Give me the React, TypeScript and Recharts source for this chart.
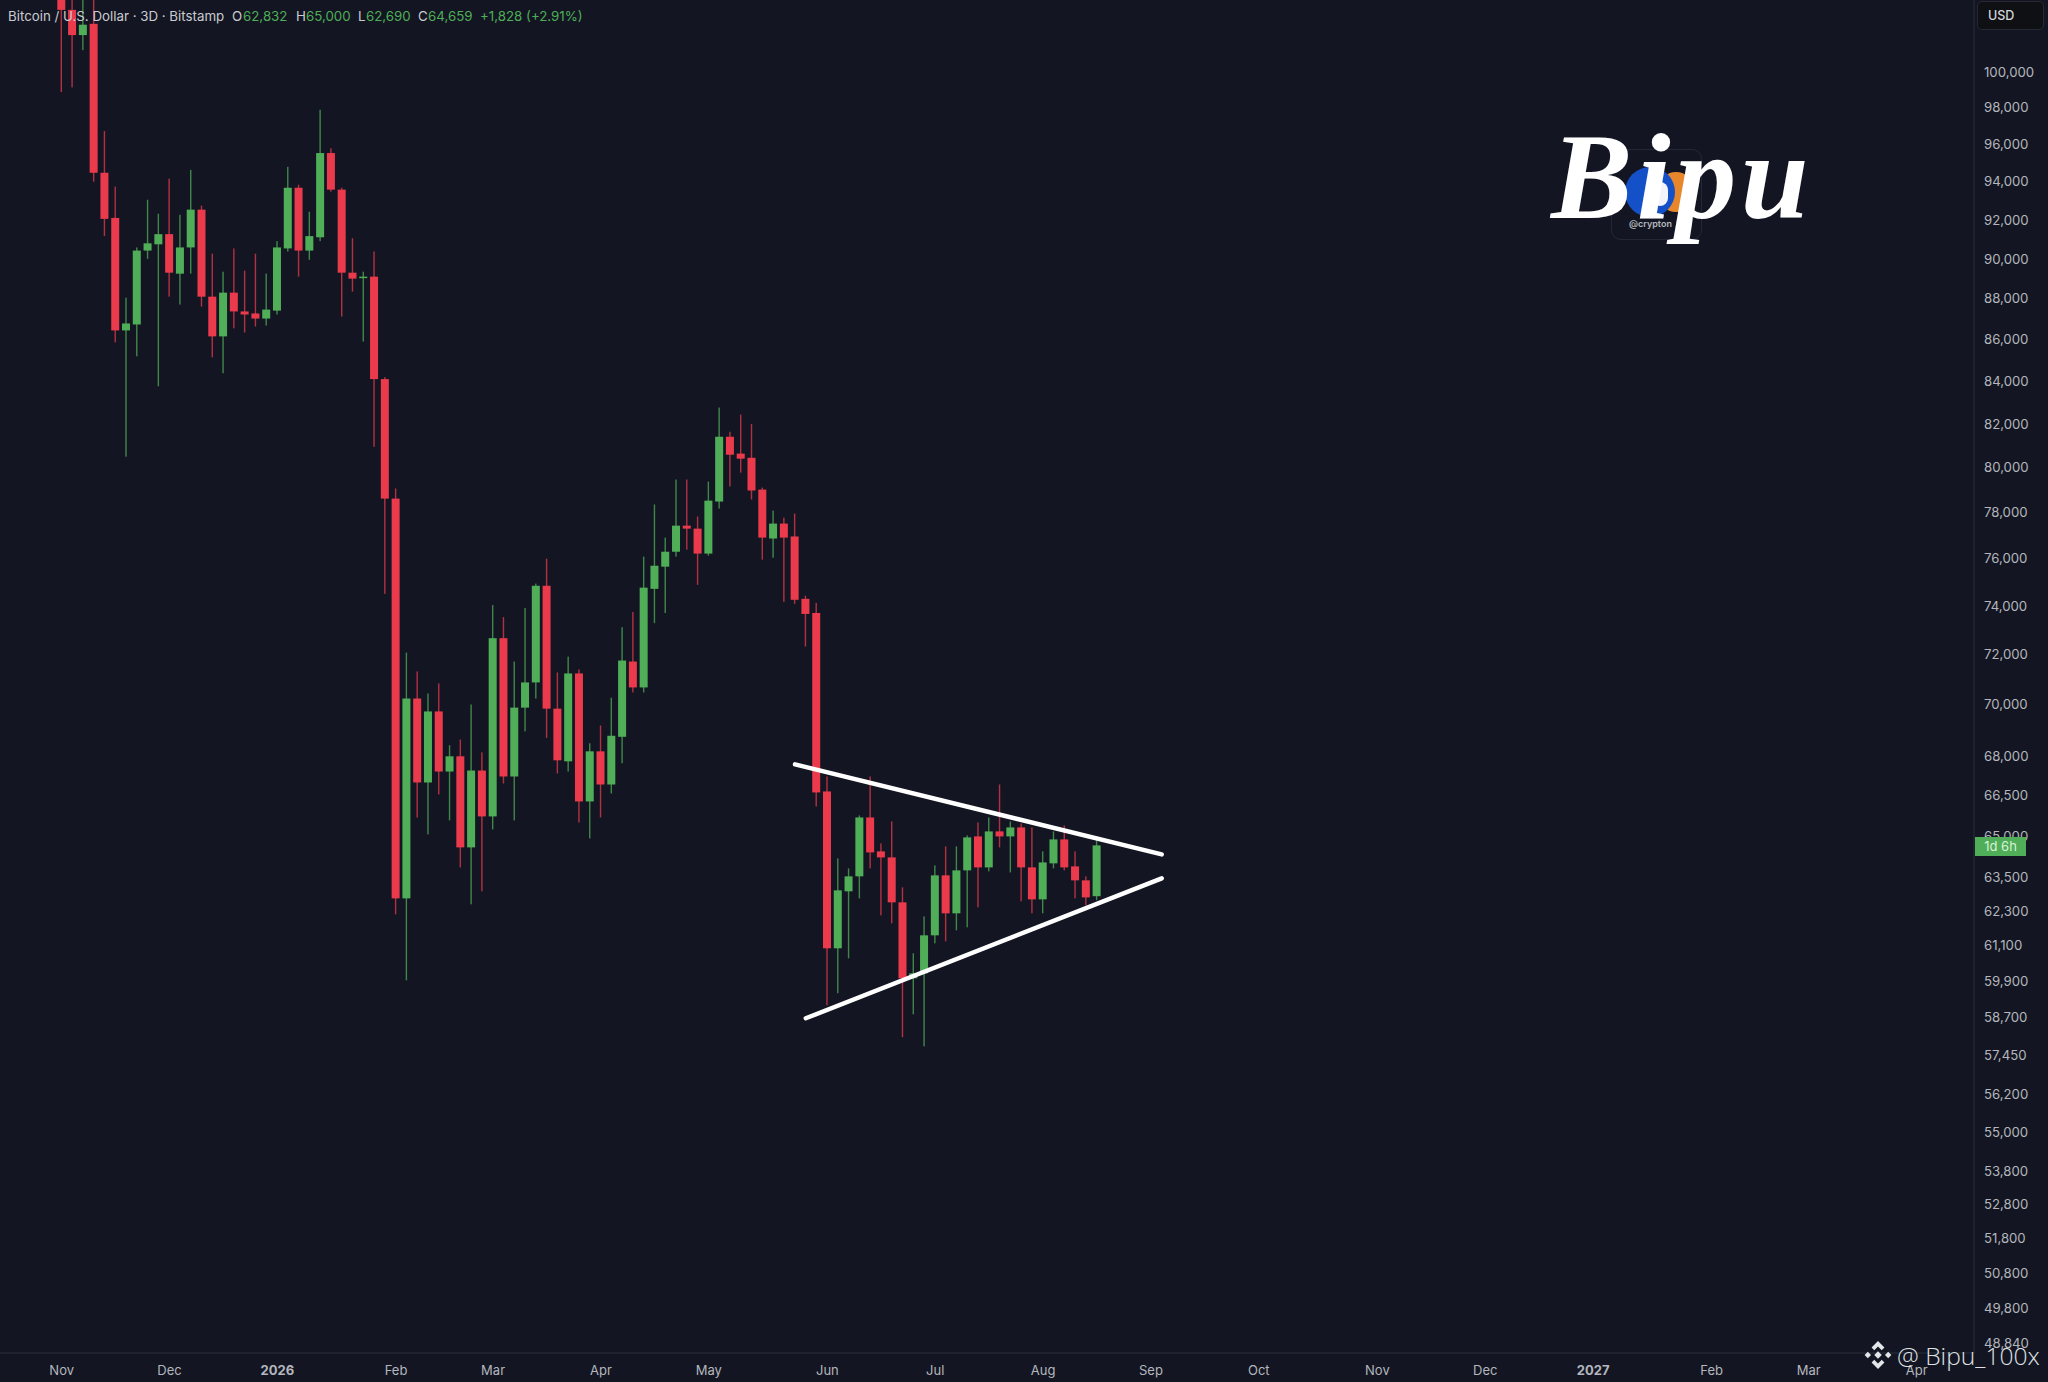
import React from "react";
import { ComposedChart, Bar, XAxis, YAxis, ReferenceLine } from "recharts";

// ---------- candle values (3-day bars, starting Nov 2025) ----------
const opens = [105000,103560,102100,102750,94475,92100,86440,86730,90420,90740,91260,89250,90580,92530,88100,86150,88300,87370,87270,87020,87410,90530,93680,90420,91100,95530,93580,89300,89050,89100,84100,78620,62755,70240,66993,69730,67407,67988,64585,67445,65723,72670,67219,69880,70880,74850,69840,67797,71240,66280,68179,66916,68740,71720,70680,74720,75660,76300,77430,77300,76220,78490,81410,80640,80450,79020,76870,77520,76960,74300,73710,66655,61013,63005,63539,65685,64440,64222,62615,59990,60160,61461,63575,62228,63754,64986,63861,65170,64986,65316,63861,62720,64006,64876,63897,63396,62832];
const highs = [105500,104160,104430,104430,96720,93740,88050,90580,93050,92320,94160,92260,94630,92740,90260,89350,90530,89400,90260,89250,90900,94790,93840,92420,97890,95790,93680,91050,89350,90370,84190,79070,72080,71320,70440,70840,68411,68633,70003,68140,74040,73540,71720,73920,74940,76000,71280,71920,71400,68490,69180,70270,73120,73750,76090,78360,76910,79470,79470,77830,79380,82760,81640,82430,82000,79110,78090,77780,77960,74430,74130,67219,64185,63825,65760,67219,64730,65537,63147,60842,62122,63933,64621,64621,65023,65500,65685,66916,65537,65463,65316,64440,65170,65390,64440,63539,65000];
const lows = [98870,99135,101240,94000,91160,85860,80500,85190,90000,83760,88100,87710,89250,87610,85140,84380,86540,86340,86630,86680,87220,90370,89100,89950,90900,93470,87120,88350,85900,80950,74510,62193,59922,65685,65060,66542,65574,63861,62545,63005,65243,66955,65574,68950,70240,68700,67332,67407,65500,64913,65685,66580,67722,70480,70480,73290,73710,76090,76390,74890,76130,78180,79160,79780,78580,75960,76040,74170,74090,72330,66093,59086,59486,60670,62755,63825,62158,61878,58030,58787,57734,61185,61253,61634,61739,62439,63718,64585,63682,62650,62228,62228,63825,63754,62755,62510,62690];
const closes = [103560,102100,102700,94475,92050,86440,86780,90420,90790,91260,89300,90580,92530,88100,86150,88300,87370,87220,87020,87460,90580,93680,90420,91160,95530,93580,89300,89000,89100,84100,78620,62755,70240,66993,69730,67407,67988,64585,67445,65723,72670,67219,69880,70880,74850,69840,67835,71240,66280,68179,66916,68780,71760,70680,74770,75700,76300,77430,77300,76220,78530,81410,80590,80410,78980,76910,77520,76910,74260,73670,66618,61013,63040,63539,65685,64403,64222,62615,59990,60160,61461,63575,62228,63754,64950,63861,65170,64986,65316,63861,62720,64040,64876,63861,63396,62790,64659];

// ---------- price axis (logarithmic) ----------
const priceTicks = [100000,98000,96000,94000,92000,90000,88000,86000,84000,82000,80000,78000,76000,74000,72000,70000,68000,66500,65000,63500,62300,61100,59900,58700,57450,56200,55000,53800,52800,51800,50800,49800,48840];
const priceDomain: [number, number] = [48566, 104140];

// ---------- time axis ----------
const monthLabels = ["Nov","Dec","2026","Feb","Mar","Apr","May","Jun","Jul","Aug","Sep","Oct","Nov","Dec","2027","Feb","Mar","Apr"];
const monthBars = [0,10,20,31,40,50,60,71,81,91,101,111,122,132,142,153,162,172];
const barDomain: [number, number] = [-5.72, 177.32];

// ---------- triangle drawn on the chart ----------
const upperLine = [{ bar: 68, price: 67680 }, { bar: 102, price: 64330 }];
const lowerLine = [{ bar: 69, price: 58654 }, { bar: 102, price: 63467 }];

const rows = opens.map((o, i) => ({
  bar: i,
  open: o,
  high: highs[i],
  low: lows[i],
  close: closes[i],
  range: [lows[i], highs[i]] as [number, number],
}));

const BG = "#131622";
const UP = "#4fae57";
const DOWN = "#ea3a4c";
const AXIS = "#2b2f3c";
const TEXT = "#b4b6bd";
const FONT = "Inter, 'Noto Sans', sans-serif";

function Candle(props: any) {
  const { x, y, width, height, payload } = props;
  const { open, high, low, close } = payload;
  const color = close >= open ? UP : DOWN;
  const top = Math.log(high);
  const span = top - Math.log(low);
  const perUnit = span > 0 ? height / span : 0;
  const upper = Math.log(Math.max(open, close));
  const lower = Math.log(Math.min(open, close));
  const bodyY = y + (top - upper) * perUnit;
  const bodyH = Math.max(1.5, (upper - lower) * perUnit);
  const cx = x + width / 2;
  return (
    <g>
      <rect x={cx - 0.7} y={y} width={1.4} height={height} fill={color} fillOpacity={0.75} />
      <rect x={x} y={bodyY} width={width} height={bodyH} fill={color} />
    </g>
  );
}

function MonthTick(props: any) {
  const { x, y, index } = props;
  const label = monthLabels[index] ?? "";
  const isYear = label.length === 4;
  return (
    <text x={x} y={y} dy={8} textAnchor="middle" fontFamily={FONT} fontSize={13} fontWeight={isYear ? 700 : 400} fill={TEXT}>
      {label}
    </text>
  );
}

const abs = (left: number, top: number): React.CSSProperties => ({ position: "absolute", left, top, whiteSpace: "nowrap" });

function HeaderPiece({ left, color, children }: { left: number; color: string; children: React.ReactNode }) {
  return <span style={{ ...abs(left, 8), color, font: `400 13.3px/16px ${FONT}` }}>{children}</span>;
}

export default function App() {
  return (
    <div style={{ position: "absolute", left: 0, top: 0, width: 2048, height: 1382, background: BG, overflow: "hidden" }}>
      <ComposedChart width={2048} height={1382} data={rows} margin={{ top: 0, right: 0, bottom: 0, left: 0 }}>
        <XAxis
          dataKey="bar"
          type="number"
          domain={barDomain}
          allowDataOverflow
          ticks={monthBars}
          interval={0}
          height={29}
          stroke={AXIS}
          tickLine={false}
          tickMargin={8}
          tick={<MonthTick />}
        />
        <YAxis
          orientation="right"
          type="number"
          scale="log"
          domain={priceDomain}
          allowDataOverflow
          ticks={priceTicks}
          interval={0}
          width={74}
          stroke={AXIS}
          tickLine={false}
          tickMargin={4}
          tick={{ fill: TEXT, fontSize: 13.2, fontFamily: FONT }}
          tickFormatter={(v: number) => v.toLocaleString("en-US")}
        />
        <Bar dataKey="range" barSize={8} shape={<Candle />} isAnimationActive={false} />
        <ReferenceLine
          segment={upperLine.map((p) => ({ x: p.bar, y: p.price }))}
          stroke="#ffffff"
          strokeWidth={4.5}
          strokeLinecap="round"
        />
        <ReferenceLine
          segment={lowerLine.map((p) => ({ x: p.bar, y: p.price }))}
          stroke="#ffffff"
          strokeWidth={4.5}
          strokeLinecap="round"
        />
      </ComposedChart>

      {/* header line */}
      <HeaderPiece left={8} color="#c9cbd1">Bitcoin / U.S. Dollar · 3D · Bitstamp</HeaderPiece>
      <HeaderPiece left={232} color="#c9cbd1">O</HeaderPiece>
      <HeaderPiece left={243} color={UP}>62,832</HeaderPiece>
      <HeaderPiece left={296} color="#c9cbd1">H</HeaderPiece>
      <HeaderPiece left={306} color={UP}>65,000</HeaderPiece>
      <HeaderPiece left={358} color="#c9cbd1">L</HeaderPiece>
      <HeaderPiece left={366} color={UP}>62,690</HeaderPiece>
      <HeaderPiece left={418} color="#c9cbd1">C</HeaderPiece>
      <HeaderPiece left={428} color={UP}>64,659</HeaderPiece>
      <HeaderPiece left={480} color={UP}>+1,828 (+2.91%)</HeaderPiece>

      {/* currency box */}
      <div style={{ ...abs(1977, 1), width: 67, height: 29, boxSizing: "border-box", background: "#0e1014", border: "1px solid #262932", borderRadius: 5, color: "#d4d5da", font: `500 12.5px/27px ${FONT}`, paddingLeft: 10 }}>USD</div>

      {/* countdown tag */}
      <div style={{ ...abs(1975, 837), width: 51, height: 19, background: UP, color: "#d9f2da", font: `400 13px/19px ${FONT}`, textAlign: "center" }}>1d 6h</div>

      {/* brand mark under the signature */}
      <div style={{ ...abs(1611, 149), width: 91, height: 91, boxSizing: "border-box", border: "1px solid #242835", borderRadius: 10 }} />
      <div style={{ ...abs(1658, 172), width: 36, height: 40, borderRadius: 20, background: "#e8862c" }} />
      <div style={{ ...abs(1625, 167), width: 50, height: 50, borderRadius: 25, background: "#1450c8" }} />
      <div style={{ ...abs(1652, 182), width: 16, height: 24, borderRadius: 8, background: "#f2f4fa" }} />
      <div style={{ ...abs(1629, 218), color: "#b4b6bd", font: `600 9px/12px ${FONT}` }}>@crypton</div>
      <div style={{ ...abs(1551, 107), color: "#ffffff", font: `italic 700 122px/140px 'Liberation Serif', serif`, letterSpacing: 4.5 }}>Bipu</div>

      {/* bottom watermark */}
      <svg style={{ position: "absolute", left: 1863, top: 1340 }} width="30" height="30" viewBox="0 0 28 28">
        <g fill="#e4e5e8">
          <path d="M14 1 L20 7 L17.5 9.5 L14 6 L10.5 9.5 L8 7 Z" />
          <path d="M14 27 L20 21 L17.5 18.5 L14 22 L10.5 18.5 L8 21 Z" />
          <path d="M14 10.5 L17.5 14 L14 17.5 L10.5 14 Z" />
          <path d="M4.5 11 L7.5 14 L4.5 17 L1.5 14 Z" />
          <path d="M23.5 11 L26.5 14 L23.5 17 L20.5 14 Z" />
        </g>
      </svg>
      <div style={{ ...abs(1897, 1338), color: "#dfe0e4", font: `300 24.6px/36px 'Open Sans', sans-serif` }}>@ Bipu_100x</div>
    </div>
  );
}
